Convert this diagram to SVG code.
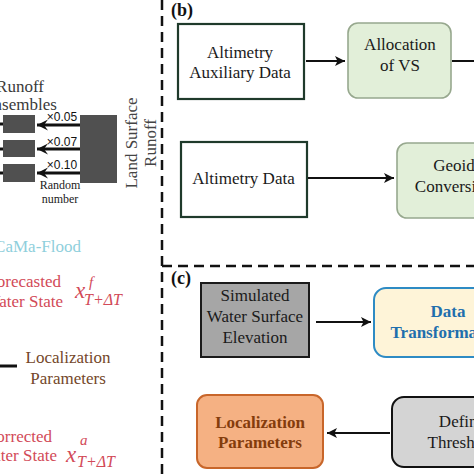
<svg xmlns="http://www.w3.org/2000/svg" width="474" height="474" viewBox="0 0 474 474">
<style>
.t{font-family:"Liberation Serif","Times New Roman",serif;font-size:17px;text-anchor:middle}
.tb{font-family:"Liberation Serif","Times New Roman",serif;font-size:17px;font-weight:bold;text-anchor:middle}
.ts{font-family:"Liberation Serif","Times New Roman",serif;font-size:12px;text-anchor:middle;fill:#222}
.lab{font-family:"Liberation Serif","Times New Roman",serif;font-size:18px;font-weight:bold;fill:#111}
.sq{fill:#fff;stroke:#1f3a2b;stroke-width:2.2}
.gr{fill:#e2efd9;stroke:#97a88e;stroke-width:1.6}
.dk{fill:#505050}
.c{stroke:#111;stroke-width:2;fill:none}
.ca{stroke:#111;stroke-width:3;fill:none}
.dash{stroke:#111;stroke-width:2.5;stroke-dasharray:10 6;fill:none}
.red{font-family:"Liberation Serif","Times New Roman",serif;font-size:17px;fill:#d24a58}
.m{font-family:"Liberation Serif","Times New Roman",serif;font-style:italic;fill:#d24a58}
.sm{font-family:"Liberation Sans",Arial,sans-serif;font-size:12px;fill:#111;text-anchor:middle}
</style>
<defs>
<marker id="ah" markerUnits="userSpaceOnUse" markerWidth="11" markerHeight="10" refX="10" refY="5" orient="auto">
<path d="M0,0 L10,5 L0,10 L2.5,5 z" fill="#111"/>
</marker>
<marker id="ahb" markerUnits="userSpaceOnUse" markerWidth="12" markerHeight="12" refX="11" refY="6" orient="auto">
<path d="M0,0.5 L11,6 L0,11.5 L4,6 z" fill="#111"/>
</marker>
</defs>
<rect width="474" height="474" fill="#fff"/>

<g id="panel-a">
  <text class="t" x="20" y="92" fill="#3a3a3a">Runoff</text>
  <text class="t" x="20" y="110" fill="#3a3a3a">Ensembles</text>
  <rect class="dk" x="3" y="115" width="32" height="18"/>
  <rect class="dk" x="3" y="140" width="32" height="17"/>
  <rect class="dk" x="3" y="164" width="32" height="18"/>
  <rect class="dk" x="80" y="115" width="37" height="68"/>
  <text class="sm" x="62" y="121">×0.05</text>
  <text class="sm" x="62" y="146">×0.07</text>
  <text class="sm" x="62" y="169">×0.10</text>
  <text class="ts" x="60" y="189">Random</text>
  <text class="ts" x="60" y="203">number</text>
  <text class="t" transform="translate(137,143) rotate(-90)" fill="#444">Land Surface</text>
  <text class="t" transform="translate(156,143) rotate(-90)" fill="#444">Runoff</text>
  <text class="t" x="81" y="252" fill="#8fcfdc" style="text-anchor:end">CaMa-Flood</text>
  <text class="red" x="61" y="287" text-anchor="end">Forecasted</text>
  <text class="red" x="63" y="307" text-anchor="end">Water State</text>
  <text class="m" x="75" y="298" font-size="23">x</text>
  <text class="m" x="89" y="287" font-size="15">f</text>
  <text class="m" x="84" y="305" font-size="16">T+ΔT</text>
  <text class="t" x="68" y="363" fill="#74472a">Localization</text>
  <text class="t" x="68" y="384" fill="#74472a">Parameters</text>
  <text class="red" x="52" y="442" text-anchor="end">Corrected</text>
  <text class="red" x="57" y="461" text-anchor="end">Water State</text>
  <text class="m" x="66" y="462" font-size="23">x</text>
  <text class="m" x="80" y="445" font-size="15">a</text>
  <text class="m" x="77" y="467" font-size="16">T+ΔT</text>
</g>

<g id="b-aux"><rect class="sq" x="178" y="24" width="126" height="75"/><text class="t" x="240" y="58" fill="#1a1a1a">Altimetry</text><text class="t" x="240" y="78" fill="#1a1a1a">Auxiliary Data</text></g>
<g id="b-alloc"><rect class="gr" x="348" y="23" width="103" height="75" rx="10"/><text class="t" x="400" y="50" fill="#1a1a1a">Allocation</text><text class="t" x="400" y="71" fill="#1a1a1a">of VS</text></g>
<g id="b-alt"><rect class="sq" x="181" y="142" width="126" height="75"/><text class="t" x="243.5" y="184" fill="#1a1a1a">Altimetry Data</text></g>
<g id="b-geoid"><rect class="gr" x="397" y="143" width="114" height="75" rx="10"/><text class="t" x="454" y="171" fill="#1a1a1a">Geoid</text><text class="t" x="454" y="192" fill="#1a1a1a">Conversion</text></g>

<g id="c-sim"><rect x="201" y="283" width="108" height="74" fill="#a6a6a6" stroke="#1a1a1a" stroke-width="2"/><text class="t" x="255" y="301" fill="#1a1a1a">Simulated</text><text class="t" x="255" y="322" fill="#1a1a1a">Water Surface</text><text class="t" x="255" y="343" fill="#1a1a1a">Elevation</text></g>
<g id="c-data"><rect x="374" y="288" width="148" height="69" rx="12" fill="#fef4d8" stroke="#2e8bc4" stroke-width="2"/><text class="tb" x="448" y="317" fill="#1f6fad">Data</text><text class="tb" x="448" y="338" fill="#1f6fad">Transformation</text></g>
<g id="c-loc"><rect x="197" y="395" width="126" height="73" rx="10" fill="#f5b183" stroke="#c8662a" stroke-width="2"/><text class="tb" x="260" y="428" fill="#843c0c">Localization</text><text class="tb" x="260" y="448" fill="#843c0c">Parameters</text></g>
<g id="c-def"><rect x="392" y="397" width="140" height="70" rx="12" fill="#d4d4d4" stroke="#111" stroke-width="2"/><text class="t" x="462" y="427" fill="#1a1a1a">Define</text><text class="t" x="462" y="448" fill="#1a1a1a">Threshold</text></g>

<g id="labels"><text class="lab" x="171" y="16">(b)</text><text class="lab" x="171" y="284">(c)</text></g>

<g id="connectors">
  <line class="dash" x1="162" y1="0" x2="162" y2="474"/>
  <line class="dash" x1="162" y1="266" x2="474" y2="266"/>
  <line class="ca" x1="80" y1="125" x2="37" y2="125" marker-end="url(#ahb)"/>
  <line class="ca" x1="80" y1="149" x2="37" y2="149" marker-end="url(#ahb)"/>
  <line class="ca" x1="80" y1="173" x2="37" y2="173" marker-end="url(#ahb)"/>
  <line class="ca" x1="-5" y1="124" x2="3" y2="124"/>
  <line class="ca" x1="-5" y1="149" x2="3" y2="149"/>
  <line class="ca" x1="-5" y1="173" x2="3" y2="173"/>
  <line class="ca" x1="0" y1="366" x2="17" y2="366"/>
  <line class="c" x1="306" y1="61" x2="345" y2="61" marker-end="url(#ah)"/>
  <line class="c" x1="452" y1="61" x2="480" y2="61"/>
  <line class="c" x1="308" y1="178" x2="394" y2="178" marker-end="url(#ah)"/>
  <line class="c" x1="316" y1="322" x2="371" y2="322" marker-end="url(#ah)"/>
  <line class="c" x1="390" y1="433" x2="327" y2="433" marker-end="url(#ah)"/>
</g>
</svg>
